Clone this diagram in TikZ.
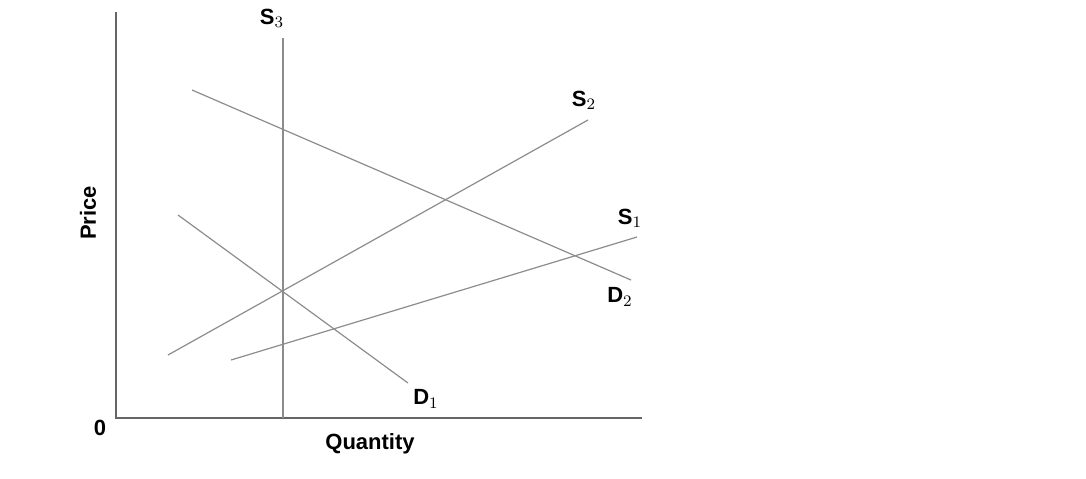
\documentclass[tikz,border=0pt]{standalone}
\usepackage{fontspec}
\setmainfont{Liberation Sans}
\begin{document}
\begin{tikzpicture}[x=0.5pt,y=-0.5pt]
\tikzset{curve/.style={draw=black!45,line width=0.6pt}, axis/.style={draw=black!60,line width=0.7pt}, lbl/.style={font=\fontsize{11}{13}\selectfont\bfseries,inner sep=0pt}};
   \useasboundingbox (0,0) rectangle (1086,478);
   % axes
   \coordinate (top) at (116,12);
   \coordinate (origin) at (116,418);
   \coordinate (right) at (642,418);
   \draw[axis] (top) -- (origin) -- (right);
   \node[lbl] at (100,428) (zero) {0};
   \node[lbl] at (370,444) (qty) {Quantity};
   \node[lbl,rotate=90] at (88,213) (price) {Price};

   % supply and demand
   \coordinate (s3a) at (283,38);  \coordinate (s3b) at (283,418);
   \coordinate (d2a) at (192,90);  \coordinate (d2b) at (631,280);
   \coordinate (s2a) at (168,355); \coordinate (s2b) at (588,120);
   \coordinate (s1a) at (231,360); \coordinate (s1b) at (637,237);
   \coordinate (d1a) at (178,215); \coordinate (d1b) at (408,383);
   \draw[curve] (s3a) -- (s3b);
   \draw[curve] (d2a) -- (d2b);
   \draw[curve] (s2a) -- (s2b);
   \draw[curve] (s1a) -- (s1b);
   \draw[curve] (d1a) -- (d1b);

   \node[lbl] at (272,18) (S3) {S$_3$};
   \node[lbl] at (584,100) (S2) {S$_2$};
   \node[lbl] at (630,218) (S1) {S$_1$};
   \node[lbl] at (620,297) (D2) {D$_2$};
   \node[lbl] at (426,399) (D1) {D$_1$};
\end{tikzpicture}
\end{document}
